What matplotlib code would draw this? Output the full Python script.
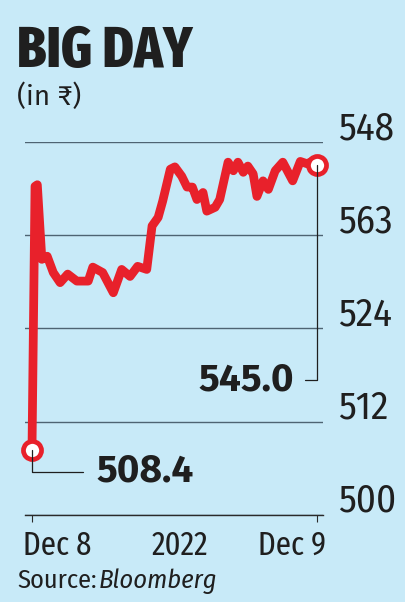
import matplotlib
matplotlib.use("Agg")
import matplotlib.pyplot as plt
from matplotlib import font_manager

# minutes into the session and price in rupees
minutes = [0, 4, 7, 13, 20, 28, 37, 47, 59, 74,
           80, 93, 107, 118, 129, 139, 151, 158, 166, 172,
           182, 188, 197, 204, 211, 217, 225, 230, 241, 247,
           258, 265, 271, 278, 284, 291, 296, 304, 311, 320,
           330, 343, 353, 362, 368, 375]
price = [508.4, 542.3, 542.5, 532.9, 533.3, 531.2, 529.9, 531.0, 530.1, 530.1,
         531.9, 531.2, 528.6, 531.6, 530.7, 532.0, 531.6, 537.2, 538.3, 540.4,
         544.5, 544.8, 543.6, 542.2, 542.2, 540.6, 541.5, 539.1, 539.6, 540.6,
         545.4, 544.3, 545.4, 544.1, 544.9, 543.9, 541.0, 543.0, 541.9, 544.3,
         545.4, 543.0, 545.5, 545.2, 545.5, 545.0]

grid_vals = [500, 512, 524, 536, 548]
grid_labels = ["500", "512", "524", "563", "548"]   # as printed
x_label_pos = [0, 187.5, 375]
x_labels = ["Dec 8", "2022", "Dec 9"]

bg = "#c8eaf8"
red = "#e8212b"
ink = "#1f1f1f"
gridc = "#4e6473"

names = {f.name for f in font_manager.fontManager.ttflist}
def pick(*fams):
    return [f for f in fams if f in names] + ["Liberation Sans", "DejaVu Sans"]

xcond = pick("Fira Sans Extra Condensed", "Fira Sans Condensed", "Barlow Condensed", "Asap Condensed")
cond = pick("Fira Sans Condensed", "Fira Sans Extra Condensed", "Barlow Semi Condensed", "Asap Condensed")
sans = pick("Fira Sans", "Noto Sans")

W, H = 406, 602
fig = plt.figure(figsize=(W / 100, H / 100), dpi=100)
fig.patch.set_facecolor(bg)

ax = fig.add_axes([25 / W, 87 / H, 298 / W, 373 / H])
ax.set_facecolor(bg)
ax.set_xlim(-9.2, 382.9)
ax.set_ylim(500, 548)

for s in ["left", "right", "top"]:
    ax.spines[s].set_visible(False)
ax.spines["bottom"].set_color("#2a2a2a")
ax.spines["bottom"].set_linewidth(1.0)

ax.set_yticks(grid_vals)
ax.yaxis.grid(True, color=gridc, lw=1.0)
ax.tick_params(axis="y", left=False, labelleft=False)
ax.set_axisbelow(True)

ax.set_xticks([minutes[0], minutes[-1]])
ax.set_xticklabels([])
ax.tick_params(axis="x", length=5, width=0.8, color="#2a2a2a", direction="out")

# y labels sit just above their gridlines, right of the plot
for v, lab in zip(grid_vals, grid_labels):
    ax.annotate(lab, xy=(1, v), xycoords=("axes fraction", "data"),
                xytext=(15, 3), textcoords="offset pixels",
                ha="left", va="baseline", fontsize=28, color=ink,
                family=cond, annotation_clip=False)

# x labels
for xp, lab, ha, dx in zip(x_label_pos, x_labels, ["left", "center", "right"], [-9, 5, 9]):
    ax.annotate(lab, xy=(xp, 0), xycoords=("data", "axes fraction"),
                xytext=(dx, -40), textcoords="offset pixels",
                ha=ha, va="baseline", fontsize=24, color=ink,
                family=xcond, annotation_clip=False)

ax.plot(minutes, price, color=red, lw=6.3, solid_joinstyle="round",
        solid_capstyle="round", zorder=3, clip_on=False)
ax.plot([minutes[0], minutes[-1]], [price[0], price[-1]], "o", ms=13,
        mfc="white", mec=red, mew=3.4, zorder=4, clip_on=False)

# callouts
ax.annotate(f"{price[-1]:.1f}", xy=(minutes[-1], price[-1]),
            xytext=(-23, -215), textcoords="offset pixels",
            ha="right", va="center", fontsize=28, fontweight="bold",
            color=ink, family=sans, zorder=5,
            arrowprops=dict(arrowstyle="-", color=ink, lw=0.9,
                            connectionstyle="angle,angleA=0,angleB=90,rad=0",
                            shrinkA=6, shrinkB=0))
ax.annotate(f"{price[0]:.1f}", xy=(minutes[0], price[0]),
            xytext=(65, -22), textcoords="offset pixels",
            ha="left", va="center", fontsize=28, fontweight="bold",
            color=ink, family=sans, zorder=5,
            arrowprops=dict(arrowstyle="-", color=ink, lw=0.9,
                            connectionstyle="angle,angleA=0,angleB=90,rad=0",
                            shrinkA=8, shrinkB=0))

fig.text(17 / W, 1 - 67 / H, "BIG DAY", fontsize=41, fontweight="heavy",
         color=ink, family=xcond, va="baseline")
fig.text(17 / W, 1 - 105 / H, "(in ₹)", fontsize=20, color=ink,
         family=sans, va="baseline")

src = fig.text(17 / W, 1 - 588 / H, "Source:", fontsize=19, color=ink,
               family=cond, va="baseline")
fig.canvas.draw()
bb = src.get_window_extent()
fig.text(bb.x1 / W + 2 / W, 1 - 588 / H, "Bloomberg", fontsize=19,
         style="italic", color=ink, family=cond, va="baseline")

fig.savefig("out.png", dpi=100, facecolor=bg)
